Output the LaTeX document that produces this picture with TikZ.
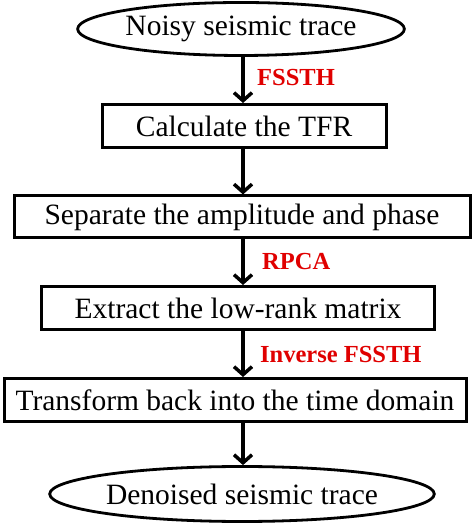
\documentclass[tikz,border=0pt]{standalone}
\usepackage{fontspec}
\setmainfont{Liberation Serif}
\usetikzlibrary{arrows.meta,shapes.geometric}
\definecolor{ink}{HTML}{000000}
\definecolor{redLab}{HTML}{E00000}
\tikzset{flow/.style={-{Straight Barb[length=8pt,width=18pt,line width=3.5pt]},ink,line width=3.5pt},
  term/.style={draw=ink,ellipse,line width=2.8pt,inner sep=0pt,font=\fontsize{29.5}{32}\selectfont},
  stepbox/.style={draw=ink,rectangle,line width=3pt,inner sep=0pt,minimum height=43pt,font=\fontsize{29.5}{32}\selectfont},
  lab/.style={font=\fontsize{24.5}{28}\selectfont\bfseries,text=redLab,anchor=west,inner sep=0pt}}
\begin{document}
\begin{tikzpicture}[x=1pt,y=1pt]
\useasboundingbox (0,0) rectangle (474,529);
\coordinate (ax) at (243,0);
\node[term,minimum width=314pt,minimum height=53pt] (noisy) at (241,500) {Noisy seismic trace};
\node[stepbox,minimum width=284pt] (tfr) at (244,403) {Calculate the TFR};
\node[stepbox,minimum width=456pt,minimum height=42pt] (sep) at (242,312) {Separate the amplitude and phase};
\node[stepbox,minimum width=393pt] (ext) at (238,221) {Extract the low-rank matrix};
\node[stepbox,minimum width=462pt] (trans) at (235,129) {Transform back into the time domain};
\node[term,minimum width=316pt,minimum height=55pt] (den) at (242,35) {Denoised seismic trace};
\draw[flow] (noisy.south -| ax) -- (tfr.north -| ax);
\draw[flow] (tfr.south -| ax) -- (sep.north -| ax);
\draw[flow] (sep.south -| ax) -- (ext.north -| ax);
\draw[flow] (ext.south -| ax) -- (trans.north -| ax);
\draw[flow] (trans.south -| ax) -- (den.north -| ax);
\node[lab] (l1) at (257,451) {FSSTH};
\node[lab] (l2) at (262,267) {RPCA};
\node[lab] (l3) at (260,174) {Inverse FSSTH};
\end{tikzpicture}
\end{document}
